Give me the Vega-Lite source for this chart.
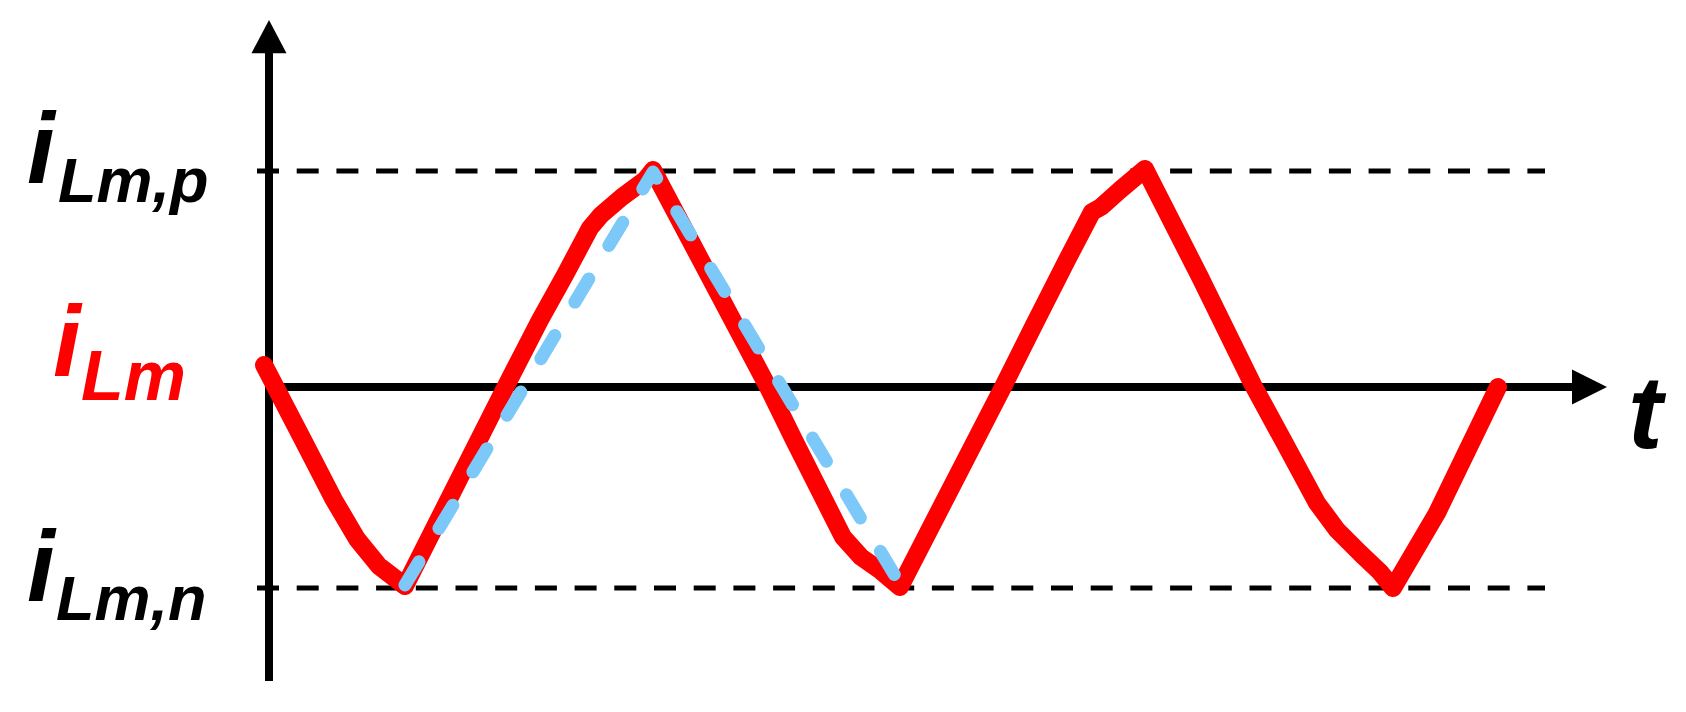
{
  "$schema": "https://vega.github.io/schema/vega-lite/v6.json",
  "width": 1686,
  "height": 712,
  "autosize": {"type": "none"},
  "padding": 0,
  "background": "white",
  "config": {"view": {"stroke": null}},
  "datasets": {
    "waveform": [
      {"t": -5, "i": 22}, {"t": 34, "i": -53}, {"t": 65, "i": -113}, {"t": 88, "i": -152},
      {"t": 110, "i": -179}, {"t": 136, "i": -199}, {"t": 236, "i": -1}, {"t": 271, "i": 67},
      {"t": 296, "i": 112}, {"t": 321, "i": 159}, {"t": 332, "i": 172}, {"t": 353, "i": 190},
      {"t": 376, "i": 207}, {"t": 384, "i": 217}, {"t": 499, "i": 0}, {"t": 525, "i": -53},
      {"t": 574, "i": -150}, {"t": 592, "i": -170}, {"t": 612, "i": -184}, {"t": 631, "i": -200},
      {"t": 734, "i": 0}, {"t": 764, "i": 60}, {"t": 798, "i": 127}, {"t": 823, "i": 175},
      {"t": 832, "i": 180}, {"t": 851, "i": 197}, {"t": 876, "i": 218}, {"t": 931, "i": 110},
      {"t": 984, "i": 2}, {"t": 1014, "i": -53}, {"t": 1048, "i": -116}, {"t": 1068, "i": -143},
      {"t": 1091, "i": -166}, {"t": 1111, "i": -185}, {"t": 1124, "i": -201}, {"t": 1168, "i": -126},
      {"t": 1229, "i": 0}
    ],
    "ideal": [
      {"t": 136, "i": -198}, {"t": 384, "i": 215}, {"t": 631, "i": -197}
    ],
    "levels": [
      {"name": "iLm,p", "i": 216, "t_start": -12, "t_end": 1276},
      {"name": "iLm,n", "i": -201, "t_start": -12, "t_end": 1276}
    ],
    "axes": [
      {"axis": "i", "t": 0, "t2": 0, "i": -294, "i2": 334},
      {"axis": "t", "t": 0, "t2": 1303, "i": 0, "i2": 0}
    ],
    "arrows": [
      {"axis": "i", "t": 0, "i": 350.5},
      {"axis": "t", "t": 1320.5, "i": 0}
    ],
    "labels": [
      {"role": "main", "text": "i", "t": -242, "i": 204},
      {"role": "sub", "text": "Lm,p", "t": -211, "i": 185},
      {"role": "main", "text": "i", "t": -242, "i": -214},
      {"role": "sub", "text": "Lm,n", "t": -213, "i": -233},
      {"role": "mainRed", "text": "i", "t": -216, "i": 11},
      {"role": "subRed", "text": "Lm", "t": -188, "i": -13},
      {"role": "axisT", "text": "t", "t": 1359, "i": -61}
    ]
  },
  "layer": [
    {
      "data": {"name": "levels"},
      "mark": {"type": "rule", "color": "black", "strokeWidth": 5, "strokeDash": [22, 17.7]},
      "encoding": {
        "x": {"field": "t_start", "type": "quantitative", "scale": {"domain": [-269, 1417], "nice": false, "zero": false}, "axis": null},
        "x2": {"field": "t_end"},
        "y": {"field": "i", "type": "quantitative", "scale": {"domain": [-325, 387], "nice": false, "zero": false}, "axis": null}
      }
    },
    {
      "data": {"name": "axes"},
      "mark": {"type": "rule", "color": "black", "strokeWidth": 8},
      "encoding": {
        "x": {"field": "t", "type": "quantitative", "scale": {"domain": [-269, 1417], "nice": false, "zero": false}, "axis": null},
        "x2": {"field": "t2"},
        "y": {"field": "i", "type": "quantitative", "scale": {"domain": [-325, 387], "nice": false, "zero": false}, "axis": null},
        "y2": {"field": "i2"}
      }
    },
    {
      "data": {"name": "arrows"},
      "transform": [{"filter": "datum.axis === 'i'"}],
      "mark": {"type": "point", "shape": "M0,-0.95L1,0.95L-1,0.95Z", "filled": true, "color": "black", "opacity": 1, "size": 1225, "strokeWidth": 0},
      "encoding": {
        "x": {"field": "t", "type": "quantitative", "scale": {"domain": [-269, 1417], "nice": false, "zero": false}, "axis": null},
        "y": {"field": "i", "type": "quantitative", "scale": {"domain": [-325, 387], "nice": false, "zero": false}, "axis": null}
      }
    },
    {
      "data": {"name": "arrows"},
      "transform": [{"filter": "datum.axis === 't'"}],
      "mark": {"type": "point", "shape": "M1,0L-1,-1L-1,1Z", "filled": true, "color": "black", "opacity": 1, "size": 1225, "strokeWidth": 0},
      "encoding": {
        "x": {"field": "t", "type": "quantitative", "scale": {"domain": [-269, 1417], "nice": false, "zero": false}, "axis": null},
        "y": {"field": "i", "type": "quantitative", "scale": {"domain": [-325, 387], "nice": false, "zero": false}, "axis": null}
      }
    },
    {
      "data": {"name": "waveform"},
      "mark": {"type": "line", "color": "#FF0000", "strokeWidth": 18, "strokeCap": "round", "strokeJoin": "round"},
      "encoding": {
        "x": {"field": "t", "type": "quantitative", "scale": {"domain": [-269, 1417], "nice": false, "zero": false}, "axis": null},
        "y": {"field": "i", "type": "quantitative", "scale": {"domain": [-325, 387], "nice": false, "zero": false}, "axis": null}
      }
    },
    {
      "data": {"name": "ideal"},
      "mark": {"type": "line", "color": "#7CC8F8", "strokeWidth": 13, "strokeDash": [27, 39], "strokeCap": "round", "strokeJoin": "round"},
      "encoding": {
        "x": {"field": "t", "type": "quantitative", "scale": {"domain": [-269, 1417], "nice": false, "zero": false}, "axis": null},
        "y": {"field": "i", "type": "quantitative", "scale": {"domain": [-325, 387], "nice": false, "zero": false}, "axis": null}
      }
    },
    {
      "data": {"name": "labels"},
      "transform": [{"filter": "datum.role === 'main'"}],
      "mark": {"type": "text", "font": "Liberation Sans", "fontWeight": "bold", "fontStyle": "italic", "fontSize": 100, "align": "left", "baseline": "alphabetic", "color": "black"},
      "encoding": {
        "x": {"field": "t", "type": "quantitative", "scale": {"domain": [-269, 1417], "nice": false, "zero": false}, "axis": null},
        "y": {"field": "i", "type": "quantitative", "scale": {"domain": [-325, 387], "nice": false, "zero": false}, "axis": null},
        "text": {"field": "text"}
      }
    },
    {
      "data": {"name": "labels"},
      "transform": [{"filter": "datum.role === 'sub'"}],
      "mark": {"type": "text", "font": "Liberation Sans", "fontWeight": "bold", "fontStyle": "italic", "fontSize": 63, "align": "left", "baseline": "alphabetic", "color": "black"},
      "encoding": {
        "x": {"field": "t", "type": "quantitative", "scale": {"domain": [-269, 1417], "nice": false, "zero": false}, "axis": null},
        "y": {"field": "i", "type": "quantitative", "scale": {"domain": [-325, 387], "nice": false, "zero": false}, "axis": null},
        "text": {"field": "text"}
      }
    },
    {
      "data": {"name": "labels"},
      "transform": [{"filter": "datum.role === 'mainRed'"}],
      "mark": {"type": "text", "font": "Liberation Sans", "fontWeight": "bold", "fontStyle": "italic", "fontSize": 100, "align": "left", "baseline": "alphabetic", "color": "#FF0000"},
      "encoding": {
        "x": {"field": "t", "type": "quantitative", "scale": {"domain": [-269, 1417], "nice": false, "zero": false}, "axis": null},
        "y": {"field": "i", "type": "quantitative", "scale": {"domain": [-325, 387], "nice": false, "zero": false}, "axis": null},
        "text": {"field": "text"}
      }
    },
    {
      "data": {"name": "labels"},
      "transform": [{"filter": "datum.role === 'subRed'"}],
      "mark": {"type": "text", "font": "Liberation Sans", "fontWeight": "bold", "fontStyle": "italic", "fontSize": 70, "align": "left", "baseline": "alphabetic", "color": "#FF0000"},
      "encoding": {
        "x": {"field": "t", "type": "quantitative", "scale": {"domain": [-269, 1417], "nice": false, "zero": false}, "axis": null},
        "y": {"field": "i", "type": "quantitative", "scale": {"domain": [-325, 387], "nice": false, "zero": false}, "axis": null},
        "text": {"field": "text"}
      }
    },
    {
      "data": {"name": "labels"},
      "transform": [{"filter": "datum.role === 'axisT'"}],
      "mark": {"type": "text", "font": "Liberation Sans", "fontWeight": "bold", "fontStyle": "italic", "fontSize": 104, "align": "left", "baseline": "alphabetic", "color": "black"},
      "encoding": {
        "x": {"field": "t", "type": "quantitative", "scale": {"domain": [-269, 1417], "nice": false, "zero": false}, "axis": null},
        "y": {"field": "i", "type": "quantitative", "scale": {"domain": [-325, 387], "nice": false, "zero": false}, "axis": null},
        "text": {"field": "text"}
      }
    }
  ]
}
